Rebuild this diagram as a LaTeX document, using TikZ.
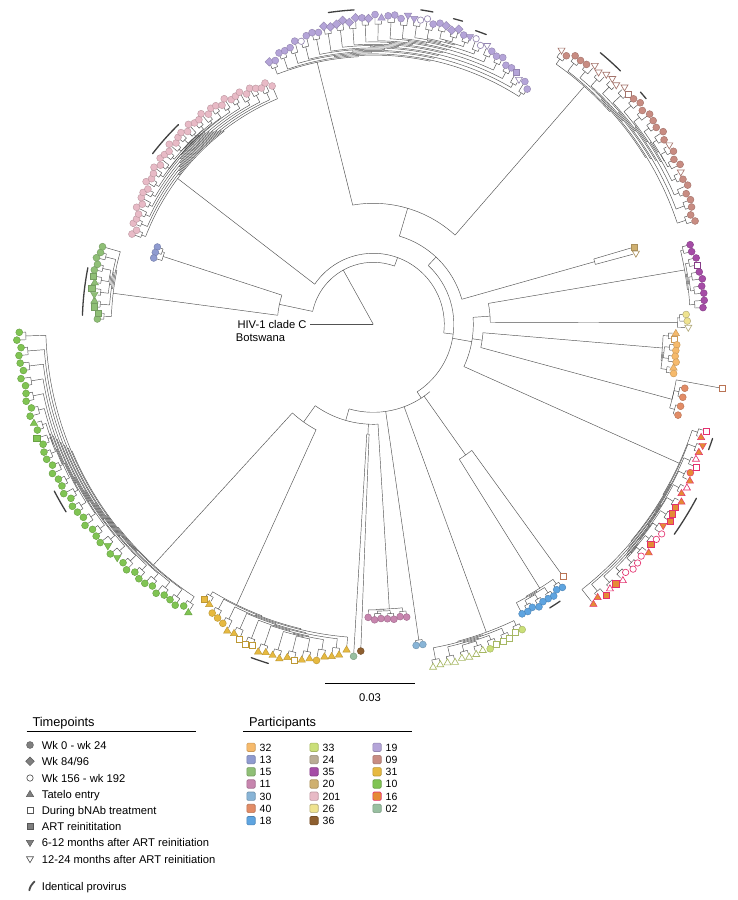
\documentclass[tikz,border=0pt]{standalone}
\usepackage{fontspec}
\setmainfont{Liberation Sans}
\newcommand\DefCol[2]{\definecolor{f#1}{HTML}{#2}\colorlet{d#1}{f#1!82!black}}
\DefCol{32}{F6BA6C}
\DefCol{13}{8F9BD0}
\DefCol{15}{8FBF76}
\DefCol{11}{C785AE}
\DefCol{30}{88B4D6}
\DefCol{40}{E28C66}
\DefCol{18}{5EA4E0}
\DefCol{33}{CADF79}
\DefCol{24}{B9AC94}
\DefCol{35}{A54CA6}
\DefCol{20}{CFB070}
\DefCol{201}{E8BAC6}
\DefCol{26}{EFE38F}
\DefCol{36}{8E5F30}
\DefCol{19}{B4A4D8}
\DefCol{09}{C88C82}
\DefCol{31}{E6B940}
\DefCol{10}{80C453}
\DefCol{16}{E58A36}
\DefCol{02}{98BFA0}
\DefCol{G}{7F7F7F}
\definecolor{d16}{HTML}{E4306E}
\definecolor{d26}{HTML}{B0A878}
\definecolor{dG}{HTML}{555555}
\tikzset{
  br/.style={line width=0.45pt, draw=black!68},
  idp/.style={line width=1.3pt, draw=black!75, line cap=round},
  mkl/.style={line width=0.45pt},
  lt/.style={font=\fontsize{11.2}{13}\selectfont, inner sep=0pt},
  ptx/.style={font=\fontsize{10.5}{12}\selectfont, inner sep=0pt},
  hd/.style={font=\fontsize{12.8}{15}\selectfont, inner sep=0pt}
}
\newcommand\TrRad[3]{\draw[br] (#1:#2) -- (#1:#3);}
\newcommand\TrArc[3]{\draw[br] (#2:#1) arc[start angle=#2, end angle=#3, radius=#1];}
\newcommand\TrLine[4]{\draw[br] (#1:#2) -- (#3:#4);}
\newcommand\TrTip[4]{\csname mk@#3\endcsname{#4}{#1:#2}}
\newcommand\IdBar[3]{\draw[idp] (#2:#1) arc[start angle=#2, end angle=#3, radius=#1];}
\expandafter\def\csname mk@c\endcsname#1#2{\filldraw[mkl,fill=f#1,draw=d#1,shift={(#2)}] (0,0) circle[radius=3.45];}
\expandafter\def\csname mk@o\endcsname#1#2{\filldraw[line width=0.65pt,fill=white,draw=d#1,shift={(#2)}] (0,0) circle[radius=3.2];}
\expandafter\def\csname mk@d\endcsname#1#2{\filldraw[mkl,fill=f#1,draw=d#1,shift={(#2)}] (0,4.3) -- (4.3,0) -- (0,-4.3) -- (-4.3,0) -- cycle;}
\expandafter\def\csname mk@t\endcsname#1#2{\filldraw[mkl,fill=f#1,draw=d#1,shift={(#2)}] (0,3.9) -- (3.7,-2.4) -- (-3.7,-2.4) -- cycle;}
\expandafter\def\csname mk@u\endcsname#1#2{\filldraw[line width=0.65pt,fill=white,draw=d#1,shift={(#2)}] (0,3.7) -- (3.5,-2.3) -- (-3.5,-2.3) -- cycle;}
\expandafter\def\csname mk@v\endcsname#1#2{\filldraw[mkl,fill=f#1,draw=d#1,shift={(#2)}] (0,-3.9) -- (3.7,2.4) -- (-3.7,2.4) -- cycle;}
\expandafter\def\csname mk@w\endcsname#1#2{\filldraw[line width=0.65pt,fill=white,draw=d#1,shift={(#2)}] (0,-3.7) -- (3.5,2.3) -- (-3.5,2.3) -- cycle;}
\expandafter\def\csname mk@s\endcsname#1#2{\filldraw[line width=0.65pt,fill=white,draw=d#1,shift={(#2)}] (-3,-3) rectangle (3,3);}
\expandafter\def\csname mk@q\endcsname#1#2{\filldraw[mkl,fill=f#1,draw=d#1,shift={(#2)}] (-3.2,-3.2) rectangle (3.2,3.2);}

\ExplSyntaxOn
\tl_new:N \l_tr_col_tl
\tl_new:N \l_tr_mk_tl
\tl_new:N \l_tr_ai_tl
\tl_new:N \l_tr_aj_tl
\tl_new:N \l_tr_ri_tl
\tl_new:N \l_tr_rj_tl
\tl_new:N \l_tr_cr_tl
\tl_new:N \l_tr_p_tl
\tl_new:N \l_tr_rL_tl
\tl_new:N \l_tr_thn_tl
\tl_new:N \l_tr_cap_tl
\tl_new:N \l_tr_crp_tl
\fp_new:N \l_tr_rz_fp
\fp_new:N \l_tr_as_fp
\fp_new:N \l_tr_rb_fp
\fp_new:N \l_tr_dr_fp
\fp_new:N \l_tr_tb_fp
\fp_new:N \l_tr_ao_fp
\fp_new:N \l_tr_ae_fp
\fp_new:N \l_tr_Ra_fp
\fp_new:N \l_tr_Rm_fp
\fp_new:N \l_tr_Re_fp
\fp_new:N \l_tr_jit_fp
\fp_new:N \l_tr_t_fp
\fp_new:N \l_tr_min_fp
\int_new:N \l_tr_n_int
\int_new:N \l_tr_m_int
\int_new:N \l_tr_lo_int
\int_new:N \l_tr_hi_int
\int_new:N \l_tr_k_int
\int_new:N \l_tr_i_int
\int_new:N \l_tr_j_int
\int_new:N \l_tr_L_int
\seq_new:N \l_tr_a_seq
\seq_new:N \l_tr_r_seq
\seq_new:N \l_tr_ca_seq
\seq_new:N \l_tr_cr_seq
\seq_new:N \l_tr_peel_seq
\seq_new:N \l_tr_rl_seq
\seq_new:N \l_tr_th_seq
\cs_new:Npn \tr_num:n #1 { \fp_eval:n { round( #1 , 3 ) } }
\cs_new_protected:Npn \tr_rad:nnn #1#2#3
  { \use:x { \exp_not:N \TrRad { \tr_num:n {#1} } { \tr_num:n {#2} } { \tr_num:n {#3} } } }
\cs_new_protected:Npn \tr_arc:nnn #1#2#3
  { \use:x { \exp_not:N \TrArc { \tr_num:n {#1} } { \tr_num:n {#2} } { \tr_num:n {#3} } } }
\cs_new_protected:Npn \tr_line:nnnn #1#2#3#4
  { \use:x { \exp_not:N \TrLine { \tr_num:n {#1} } { \tr_num:n {#2} } { \tr_num:n {#3} } { \tr_num:n {#4} } } }
\cs_new_protected:Npn \tr_tip:nnnn #1#2#3#4
  { \use:x { \exp_not:N \TrTip { \tr_num:n {#1} } { \tr_num:n {#2} } {#3} {#4} } }
\cs_new_protected:Npn \tr_clade:nnnnnnnnn #1#2#3#4#5#6#7#8#9
  {
    \tl_set:Nn \l_tr_col_tl {#1}
    \fp_set:Nn \l_tr_rz_fp {#2}
    \fp_set:Nn \l_tr_as_fp {#3}
    \fp_set:Nn \l_tr_rb_fp { \clist_item:nn {#4} {1} }
    \fp_set:Nn \l_tr_dr_fp { \clist_item:nn {#4} {2} }
    \int_set:Nn \l_tr_k_int { \clist_item:nn {#4} {3} }
    \fp_set:Nn \l_tr_tb_fp { \clist_item:nn {#4} {4} }
    \fp_set:Nn \l_tr_ao_fp {#5}
    \fp_set:Nn \l_tr_ae_fp {#6}
    \fp_set:Nn \l_tr_Ra_fp { \clist_item:nn {#7} {1} }
    \fp_set:Nn \l_tr_Rm_fp { \clist_item:nn {#7} {2} }
    \fp_set:Nn \l_tr_Re_fp { \clist_item:nn {#7} {3} }
    \tl_set:Nn \l_tr_mk_tl {#8}
    \fp_set:Nn \l_tr_jit_fp {#9}
    \int_set:Nn \l_tr_n_int { \tl_count:N \l_tr_mk_tl }
    \seq_clear:N \l_tr_a_seq
    \seq_clear:N \l_tr_r_seq
    \int_step_inline:nn { \l_tr_n_int }
      {
        \fp_set:Nn \l_tr_t_fp { ( ##1 - 1 ) / max( 1 , \int_use:N \l_tr_n_int - 1 ) }
        \seq_put_right:Nx \l_tr_a_seq { \tr_num:n { \l_tr_ao_fp + ( \l_tr_ae_fp - \l_tr_ao_fp ) * \l_tr_t_fp } }
        \seq_put_right:Nx \l_tr_r_seq { \tr_num:n { \l_tr_Ra_fp * ( 2 * \l_tr_t_fp - 1 ) * ( \l_tr_t_fp - 1 ) + \l_tr_Rm_fp * 4 * \l_tr_t_fp * ( 1 - \l_tr_t_fp ) + \l_tr_Re_fp * \l_tr_t_fp * ( 2 * \l_tr_t_fp - 1 ) + \l_tr_jit_fp * sind( ##1 * 137.508 ) } }
      }
    \int_set:Nn \l_tr_m_int { \int_div_truncate:nn { \l_tr_n_int + 1 } { 2 } }
    \seq_clear:N \l_tr_ca_seq
    \seq_clear:N \l_tr_cr_seq
    \int_step_inline:nn { \l_tr_m_int }
      {
        \int_set:Nn \l_tr_i_int { 2 * ##1 - 1 }
        \int_set:Nn \l_tr_j_int { \int_min:nn { 2 * ##1 } { \l_tr_n_int } }
        \tl_set:Nx \l_tr_ai_tl { \seq_item:Nn \l_tr_a_seq { \l_tr_i_int } }
        \tl_set:Nx \l_tr_aj_tl { \seq_item:Nn \l_tr_a_seq { \l_tr_j_int } }
        \tl_set:Nx \l_tr_ri_tl { \seq_item:Nn \l_tr_r_seq { \l_tr_i_int } }
        \tl_set:Nx \l_tr_rj_tl { \seq_item:Nn \l_tr_r_seq { \l_tr_j_int } }
        \tl_set:Nx \l_tr_cr_tl { \tr_num:n { min( \l_tr_ri_tl , \l_tr_rj_tl ) - \l_tr_tb_fp } }
        \seq_put_right:Nx \l_tr_ca_seq { \tr_num:n { ( ( \l_tr_ai_tl ) + ( \l_tr_aj_tl ) ) / 2 } }
        \seq_put_right:NV \l_tr_cr_seq \l_tr_cr_tl
        \tr_rad:nnn { \l_tr_ai_tl } { \l_tr_cr_tl } { \l_tr_ri_tl - 3.3 }
        \int_compare:nNnF { \l_tr_i_int } = { \l_tr_j_int }
          {
            \tr_rad:nnn { \l_tr_aj_tl } { \l_tr_cr_tl } { \l_tr_rj_tl - 3.3 }
            \tr_arc:nnn { \l_tr_cr_tl } { \l_tr_ai_tl } { \l_tr_aj_tl }
          }
      }
    \seq_clear:N \l_tr_peel_seq
    \seq_clear:N \l_tr_rl_seq
    \int_set:Nn \l_tr_lo_int { 1 }
    \int_set_eq:NN \l_tr_hi_int \l_tr_m_int
    \int_zero:N \l_tr_L_int
    \bool_until_do:nn { \int_compare_p:nNn { \l_tr_lo_int } = { \l_tr_hi_int } }
      {
        \fp_set:Nn \l_tr_min_fp { inf }
        \int_step_inline:nnn { \l_tr_lo_int } { \l_tr_hi_int }
          { \fp_set:Nn \l_tr_min_fp { min( \l_tr_min_fp , \seq_item:Nn \l_tr_cr_seq { ##1 } ) } }
        \seq_put_right:Nx \l_tr_rl_seq { \tr_num:n { min( \l_tr_rb_fp + \int_use:N \l_tr_L_int * \l_tr_dr_fp , \l_tr_min_fp - 2.5 ) } }
        \int_compare:nNnTF { \int_mod:nn { \l_tr_L_int } { \l_tr_k_int } } = { \l_tr_k_int - 1 }
          {
            \seq_put_right:Nx \l_tr_peel_seq { \int_use:N \l_tr_hi_int }
            \int_decr:N \l_tr_hi_int
          }
          {
            \seq_put_right:Nx \l_tr_peel_seq { \int_use:N \l_tr_lo_int }
            \int_incr:N \l_tr_lo_int
          }
        \int_incr:N \l_tr_L_int
      }
    \seq_clear:N \l_tr_th_seq
    \seq_put_left:Nx \l_tr_th_seq { \seq_item:Nn \l_tr_ca_seq { \l_tr_lo_int } }
    \int_step_inline:nnnn { \l_tr_L_int - 1 } { -1 } { 0 }
      {
        \seq_put_left:Nx \l_tr_th_seq
          { \tr_num:n { ( ( \seq_item:Nn \l_tr_ca_seq { \seq_item:Nn \l_tr_peel_seq { ##1 + 1 } } ) + ( \seq_item:Nn \l_tr_th_seq { 1 } ) ) / 2 } }
      }
    \int_compare:nNnTF { \l_tr_L_int } = { 0 }
      { \tr_line:nnnn { \l_tr_as_fp } { \l_tr_rz_fp } { \seq_item:Nn \l_tr_th_seq { 1 } } { \seq_item:Nn \l_tr_cr_seq { 1 } } }
      { \tr_line:nnnn { \l_tr_as_fp } { \l_tr_rz_fp } { \seq_item:Nn \l_tr_th_seq { 1 } } { \seq_item:Nn \l_tr_rl_seq { 1 } } }
    \int_step_inline:nnn { 0 } { \l_tr_L_int - 1 }
      {
        \tl_set:Nx \l_tr_p_tl { \seq_item:Nn \l_tr_peel_seq { ##1 + 1 } }
        \tl_set:Nx \l_tr_rL_tl { \seq_item:Nn \l_tr_rl_seq { ##1 + 1 } }
        \tl_set:Nx \l_tr_thn_tl { \seq_item:Nn \l_tr_th_seq { ##1 + 2 } }
        \tl_set:Nx \l_tr_cap_tl { \seq_item:Nn \l_tr_ca_seq { \l_tr_p_tl } }
        \tl_set:Nx \l_tr_crp_tl { \seq_item:Nn \l_tr_cr_seq { \l_tr_p_tl } }
        \tr_arc:nnn { \l_tr_rL_tl } { \l_tr_cap_tl } { \l_tr_thn_tl }
        \tr_rad:nnn { \l_tr_cap_tl } { \l_tr_rL_tl } { \l_tr_crp_tl }
        \int_compare:nNnTF { ##1 + 1 } < { \l_tr_L_int }
          { \tr_rad:nnn { \l_tr_thn_tl } { \l_tr_rL_tl } { \seq_item:Nn \l_tr_rl_seq { ##1 + 2 } } }
          { \tr_rad:nnn { \l_tr_thn_tl } { \l_tr_rL_tl } { \seq_item:Nn \l_tr_cr_seq { \l_tr_lo_int } } }
      }
    \int_step_inline:nn { \l_tr_n_int }
      { \tr_tip:nnnn { \seq_item:Nn \l_tr_a_seq { ##1 } } { \seq_item:Nn \l_tr_r_seq { ##1 } } { \tl_item:Nn \l_tr_mk_tl { ##1 } } { \l_tr_col_tl } }
  }
\NewDocumentCommand \clade { m m m m m m m m m }
  { \tr_clade:nnnnnnnnn {#1} {#2} {#3} {#4} {#5} {#6} {#7} {#8} {#9} }
\ExplSyntaxOff

\begin{document}
\begin{tikzpicture}[x=1pt,y=1pt]
\useasboundingbox (0,0) rectangle (737,-900);
\fill[white] (0,0) rectangle (737,-900);
\begin{scope}[shift={(373.3,-324.3)}]
\coordinate (C) at (0,0);
\coordinate (lblend) at (-63.3,0);
\coordinate (rootnode) at (119:62);
\draw[br] (lblend) -- (C);
\draw[br] (C) -- (rootnode);
% backbone
\TrArc{62}{168}{70}
\TrRad{168}{62}{96}   \TrArc{96}{162.3}{174.6}
\TrRad{70}{62}{71}    \TrArc{71}{145.6}{-7}
\TrRad{-7}{71}{80.5}  \TrArc{80.5}{47}{-57}
\TrRad{47}{80.5}{92}  \TrArc{92}{73.5}{15.8}
\TrRad{73.5}{92}{121} \TrArc{121}{99.8}{47.5}
\TrRad{-10}{80.5}{100} \TrArc{100}{4}{-25}
\TrRad{4}{100}{117}   \TrArc{117}{10.3}{1}
\TrRad{-8.3}{100}{110} \TrArc{110}{-4.4}{-12.2}
\TrRad{-57}{80.5}{88} \TrArc{88}{-50}{-106}
\TrRad{-54.75}{88}{160} \TrArc{160}{-52}{-57.5}
\TrRad{-106}{88}{100} \TrArc{100}{-87.3}{-125.5}
\TrRad{-92.8}{100}{110} \TrArc{110}{-92.2}{-93.4}
\TrRad{-125.5}{100}{120} \TrArc{120}{-118.5}{-132.4}
% clades
\clade{19}{121}{99.8}{268,1.2,3,6.5}{111.6}{56.8}{281,309,282}{dcccccocccddddddcdctcccvvooccdddcvoowcccccqwcc}{2}
\clade{09}{121}{47.5}{318,1.2,3,6.5}{55.5}{17.8}{331,346,336}{wccccwwwwwwsccccccccwcccwccccccc}{2}
\clade{201}{71}{145.6}{244,1.1,2,6.5}{159.5}{113}{256,270,261}{ccccccccccccccccccccccccccccccccccccccccc}{2.5}
\clade{13}{96}{162.3}{222,1,2,6}{160.3}{163.2}{229,230,229}{ccc}{0.5}
\clade{15}{96}{174.6}{262,1.2,2,6}{178.9}{164}{275,283,282}{cqqtvqtqccccc}{1.5}
\clade{20}{92}{15.8}{225,1,2,42}{16.5}{15.1}{272,272,272}{qw}{0}
\clade{35}{117}{10.3}{316,1,2,8}{14.1}{2.9}{326,331,331}{cccscccccc}{1}
\clade{26}{117}{1}{305,1,2,6.5}{1.8}{-0.6}{313,314,315}{ccw}{0}
\clade{32}{110}{-4.4}{290,1,2,6.5}{-1.7}{-9.3}{302,304,304}{tscccctc}{1}
\clade{40}{110}{-12.2}{308,1,2,5}{-11.6}{-16.6}{318,318,318}{cccc}{0}
\TrArc{308}{-14.1}{-10.4}
\TrRad{-10.4}{308}{351.8}
\csname mk@s\endcsname{40}{-10.4:355}
\clade{16}{100}{-25}{336,0.7,3,5}{-17.8}{-51.8}{348,355,355}{stvtusctuttqqqvooqtoooouquqtt}{2}
\clade{40}{160}{-52}{300,1,2,6.5}{-53}{-53}{316,316,316}{s}{0}
\clade{18}{160}{-57.5}{312,1,2,5}{-54.3}{-62.8}{323,326,325}{ccccccccc}{1.5}
\clade{33}{88}{-69.5}{328,1,2,6}{-64}{-80.1}{339,345,347}{csssscuuuuuuuu}{1}
\clade{30}{88}{-81.9}{316,1,2,5}{-81.2}{-82.4}{324,324,324}{cc}{0}
\clade{11}{100}{-87.3}{285,1,2,5}{-83.5}{-91}{294,295,294}{ccccccc}{1}
\clade{36}{110}{-92.2}{300,1,2,6}{-92.2}{-92.2}{327,327,327}{c}{0}
\clade{02}{110}{-93.4}{300,1,2,6}{-93.4}{-93.4}{332.6,332.6,332.6}{c}{0}
\clade{31}{120}{-118.5}{312,0.9,3,6.5}{-121.6}{-94.7}{322,346,328}{qtcccttssstttttsttctttt}{1.5}
\clade{10}{120}{227.6}{326,0.8,3,6.5}{237.3}{181.3}{341,351,355}{tcccccccccccvcvccccccccccccccccqctcccccccccccc}{2}
% identical provirus bars
\IdBar{315}{98.2}{93.5}
\IdBar{318}{81.4}{79.2}
\IdBar{316}{75.3}{73.6}
\IdBar{311}{70.8}{68.7}
\IdBar{354}{50.1}{45.7}
\IdBar{354}{41}{39.6}
\IdBar{279}{142.3}{134.3}
\IdBar{291}{168.8}{178.2}
\IdBar{360}{207.6}{211.4}
\IdBar{355}{-110.1}{-107.2}
\IdBar{334}{-58.1}{-56}
\IdBar{367}{-28.3}{-34.9}
\IdBar{358}{-18.6}{-20.5}
% root label
\node[lt, anchor=base west] (hiv) at (-136,-4) {HIV-1 clade C};
\node[lt, anchor=base west] (bots) at (-137.6,-17.4) {Botswana};
\end{scope}
% scale bar
\coordinate (sb1) at (325,-683.3);
\coordinate (sb2) at (415,-683.3);
\draw[line width=1pt] (sb1) -- (sb2);
\node[lt, anchor=base] (sbl) at (370,-701) {0.03};
% legend: timepoints
\node[hd, anchor=base west] (tphead) at (32.3,-726.3) {Timepoints};
\draw[line width=0.8pt] (26.7,-731) -- (195.7,-731);
\csname mk@c\endcsname{G}{30,-745}
\node[lt, anchor=base west] (t1) at (41.7,-749) {Wk 0 - wk 24};
\csname mk@d\endcsname{G}{30,-761.3}
\node[lt, anchor=base west] (t2) at (41.7,-765.3) {Wk 84/96};
\csname mk@o\endcsname{G}{30,-778}
\node[lt, anchor=base west] (t3) at (41.7,-782) {Wk 156 - wk 192};
\csname mk@t\endcsname{G}{30,-794.3}
\node[lt, anchor=base west] (t4) at (41.7,-798.3) {Tatelo entry};
\csname mk@s\endcsname{G}{30,-810}
\node[lt, anchor=base west] (t5) at (41.7,-814) {During bNAb treatment};
\csname mk@q\endcsname{G}{30,-826}
\node[lt, anchor=base west] (t6) at (41.7,-830) {ART reinititation};
\csname mk@v\endcsname{G}{30,-842.7}
\node[lt, anchor=base west] (t7) at (41.7,-846.7) {6-12 months after ART reinitiation};
\csname mk@w\endcsname{G}{30,-859}
\node[lt, anchor=base west] (t8) at (41.7,-863) {12-24 months after ART reinitiation};
\draw[line width=1.8pt, line cap=round, black!70] (29.3,-890.3) .. controls (30.5,-886) .. (34.5,-881.5);
\node[lt, anchor=base west] (t9) at (41.7,-890) {Identical provirus};
% legend: participants
\node[hd, anchor=base west] (pphead) at (249,-726.3) {Participants};
\draw[line width=0.8pt] (243.3,-731) -- (412.3,-731);
\foreach \id/\cx/\ry in {32/0/0,13/0/1,15/0/2,11/0/3,30/0/4,40/0/5,18/0/6,33/1/0,24/1/1,35/1/2,20/1/3,201/1/4,26/1/5,36/1/6,19/2/0,09/2/1,31/2/2,10/2/3,16/2/4,02/2/5}{
  \pgfmathsetmacro\xx{251+63*\cx}
  \pgfmathsetmacro\yy{-(747.3+12.23*\ry)}
  \filldraw[fill=f\id, draw=d\id, line width=0.6pt, rounded corners=1.3pt] (\xx-4.2,\yy-4.2) rectangle (\xx+4.2,\yy+4.2);
  \node[ptx, anchor=base west] (p\id) at (\xx+8.5,\yy-3.8) {\id};
}
\end{tikzpicture}
\end{document}
